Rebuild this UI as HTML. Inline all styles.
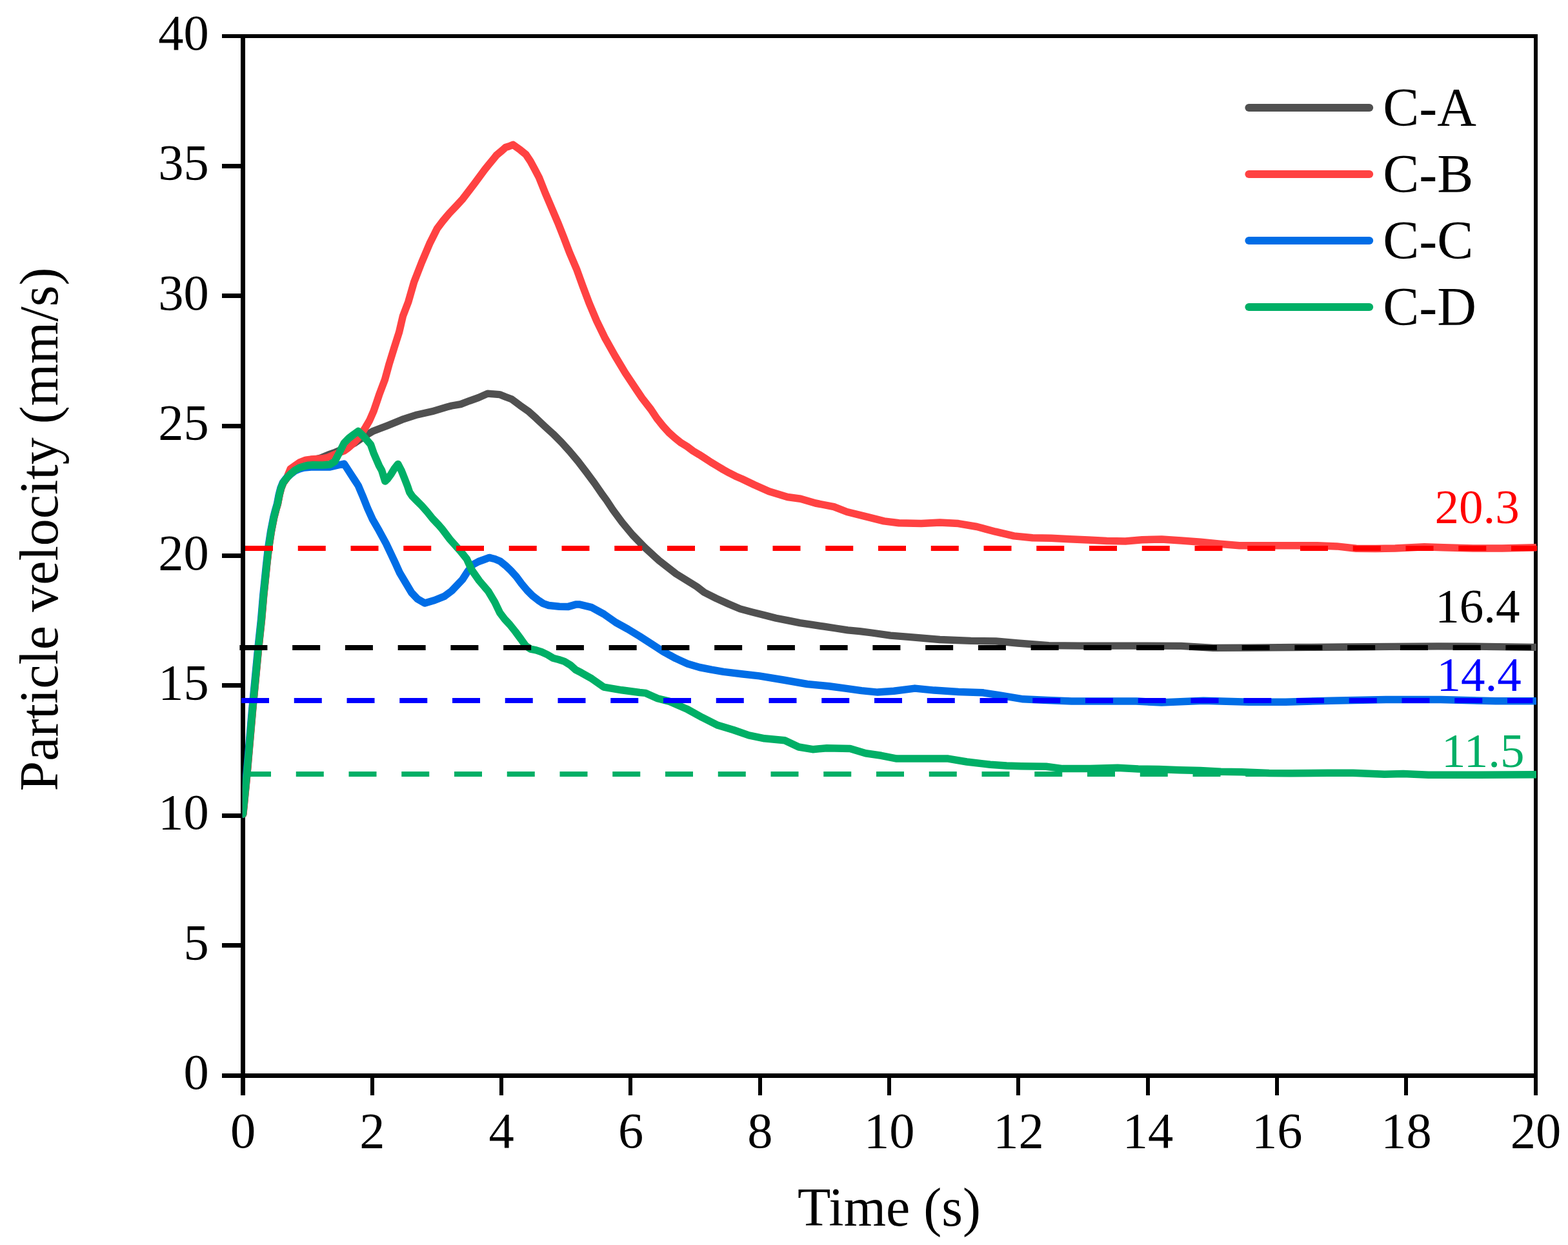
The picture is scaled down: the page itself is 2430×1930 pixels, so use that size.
<!DOCTYPE html><html><head><meta charset="utf-8"><title>Particle velocity</title>
<style>html,body{margin:0;padding:0;background:#fff;width:2430px;height:1930px;overflow:hidden}svg{display:block}text{font-family:"Liberation Serif","Times New Roman",serif;fill:#000}</style></head><body>
<svg width="2430" height="1930" viewBox="0 0 2430 1930">
<rect x="0" y="0" width="2430" height="1930" fill="#fff"/>
<g fill="#000">
<rect x="373" y="53" width="7" height="1618"/>
<rect x="2377" y="53" width="6" height="1618"/>
<rect x="344" y="53" width="2039" height="6"/>
<rect x="344" y="1664" width="2039" height="7"/>
<rect x="344" y="1462" width="30" height="7"/>
<rect x="344" y="1261" width="30" height="7"/>
<rect x="344" y="1059" width="30" height="7"/>
<rect x="344" y="858" width="30" height="7"/>
<rect x="344" y="657" width="30" height="7"/>
<rect x="344" y="455" width="30" height="7"/>
<rect x="344" y="254" width="30" height="7"/>
<rect x="373" y="1668" width="7" height="30"/>
<rect x="574" y="1668" width="6" height="30"/>
<rect x="774" y="1668" width="6" height="30"/>
<rect x="974" y="1668" width="6" height="30"/>
<rect x="1175" y="1668" width="6" height="30"/>
<rect x="1375" y="1668" width="6" height="30"/>
<rect x="1575" y="1668" width="6" height="30"/>
<rect x="1776" y="1668" width="6" height="30"/>
<rect x="1976" y="1668" width="6" height="30"/>
<rect x="2176" y="1668" width="6" height="30"/>
<rect x="2377" y="1668" width="6" height="30"/>
</g>
<defs><clipPath id="pa"><rect x="375.8" y="40" width="2005.2" height="1640"/></clipPath></defs>
<g clip-path="url(#pa)">
<path d="M376.8,1262.0 L382.9,1200.0 L391.6,1100.0 L400.8,1004.0 L405.5,960.0 L408.7,922.6 L411.1,899.3 L413.5,875.9 L416.4,850.2 L420.5,823.4 L424.7,802.0 L427.8,790.0 L430.4,781.1 L433.1,767.1 L435.8,756.6 L439.2,748.2 L443.9,741.9 L450.0,733.5 L457.0,728.0 L465.0,721.5 L473.0,717.0 L485.0,713.0 L497.0,710.0 L511.4,704.0 L520.0,701.0 L531.7,696.0 L549.2,687.0 L566.7,675.0 L578.4,668.2 L590.1,663.8 L600.0,659.9 L623.2,650.4 L646.4,642.9 L669.6,637.8 L692.8,630.9 L700.0,629.0 L713.9,626.6 L727.8,621.3 L741.7,616.4 L755.7,610.2 L764.9,610.9 L774.2,611.6 L783.5,615.3 L792.9,618.8 L805.7,628.3 L818.6,637.3 L831.4,648.8 L844.3,661.0 L857.1,672.6 L870.0,685.5 L882.8,699.6 L895.7,715.0 L908.5,731.7 L921.4,749.1 L934.2,767.7 L940.0,775.5 L949.9,790.5 L964.3,810.0 L980.1,829.0 L999.0,848.5 L1021.4,869.0 L1047.7,889.5 L1080.0,909.5 L1091.3,918.3 L1109.9,927.6 L1128.4,936.0 L1147.0,943.9 L1165.5,948.9 L1184.1,953.6 L1202.6,958.2 L1221.2,961.9 L1239.7,965.6 L1258.3,968.4 L1276.8,971.2 L1295.4,974.0 L1313.9,976.8 L1332.5,978.6 L1351.1,981.0 L1380.0,985.1 L1408.2,987.4 L1456.5,991.5 L1504.7,993.4 L1543.3,993.9 L1577.1,997.0 L1625.3,1000.7 L1673.6,1001.1 L1770.0,1001.1 L1830.3,1001.4 L1880.0,1004.3 L1933.7,1004.2 L2007.5,1003.5 L2081.2,1003.0 L2155.0,1002.3 L2228.7,1001.8 L2302.5,1002.3 L2380.0,1003.3" fill="none" stroke="#505050" stroke-width="11.3" stroke-linejoin="round" stroke-linecap="round"/>
<path d="M376.9,1262.0 L383.0,1200.0 L391.7,1100.0 L400.9,1004.0 L405.6,960.0 L408.8,922.6 L411.2,899.3 L413.6,875.9 L416.5,850.2 L420.6,823.4 L424.8,802.0 L427.9,790.0 L430.5,781.1 L433.2,767.1 L435.9,756.6 L439.3,748.2 L444.0,741.9 L450.1,727.0 L457.1,722.0 L465.0,716.5 L473.9,713.1 L481.6,712.1 L499.1,711.0 L508.5,709.0 L518.7,704.5 L533.0,699.0 L540.0,694.0 L549.0,686.0 L558.0,676.0 L566.7,662.0 L572.6,652.0 L579.1,637.1 L583.3,624.8 L587.4,612.6 L592.0,600.3 L596.6,588.1 L603.3,563.6 L610.9,539.0 L618.7,514.5 L624.4,490.0 L632.9,467.7 L641.6,437.3 L653.4,407.0 L666.3,376.6 L677.7,353.9 L686.0,343.0 L695.9,331.1 L706.0,320.5 L717.2,308.3 L734.6,285.5 L751.3,262.8 L769.5,240.5 L778.5,233.0 L783.4,228.6 L788.4,227.0 L795.1,224.3 L806.7,232.7 L815.0,239.5 L822.0,250.0 L828.5,262.0 L835.4,275.1 L844.7,298.5 L854.7,321.9 L864.6,345.2 L873.9,368.6 L882.6,391.5 L893.5,416.9 L903.2,443.7 L913.3,470.6 L924.7,497.5 L937.8,524.4 L952.9,551.2 L969.0,578.1 L986.9,605.0 L995.0,617.0 L1008.7,634.6 L1018.0,648.6 L1027.4,660.3 L1036.7,670.6 L1046.1,679.0 L1055.4,686.4 L1064.8,692.1 L1074.1,699.1 L1083.5,704.7 L1092.8,710.7 L1102.1,716.8 L1111.5,722.4 L1120.8,728.0 L1130.2,733.2 L1139.5,737.9 L1150.0,742.5 L1168.8,751.5 L1191.8,761.8 L1220.5,770.5 L1240.7,773.3 L1263.7,780.0 L1292.4,785.7 L1312.6,793.5 L1341.3,800.7 L1370.1,807.9 L1393.1,810.7 L1427.6,811.6 L1456.4,809.9 L1485.1,811.6 L1513.9,816.5 L1542.7,824.2 L1571.4,830.9 L1600.2,833.7 L1628.9,834.3 L1657.7,835.7 L1686.4,836.9 L1715.2,838.6 L1744.0,838.9 L1770.1,836.7 L1800.3,836.1 L1830.4,837.9 L1860.6,840.3 L1890.7,843.3 L1920.9,845.7 L1981.2,845.7 L2041.5,845.7 L2071.6,846.9 L2101.8,850.2 L2131.9,850.5 L2162.1,849.9 L2207.3,847.8 L2237.4,848.7 L2282.7,849.9 L2327.9,849.9 L2380.0,848.7" fill="none" stroke="#FF4242" stroke-width="11.5" stroke-linejoin="round" stroke-linecap="round"/>
<path d="M375.9,1262.0 L382.0,1200.0 L390.7,1100.0 L399.9,1004.0 L404.6,960.0 L407.8,922.6 L410.2,899.3 L412.6,875.9 L415.5,850.2 L419.6,823.4 L423.8,802.0 L426.9,790.0 L429.5,781.1 L432.2,767.1 L434.9,756.6 L438.3,748.2 L443.0,741.9 L450.0,735.5 L457.0,730.0 L464.0,727.0 L471.0,725.0 L482.0,724.0 L497.0,724.0 L511.4,724.0 L522.0,721.5 L533.3,719.0 L543.7,735.1 L549.5,744.0 L555.1,752.6 L562.5,770.1 L569.5,787.6 L577.4,805.2 L587.5,822.7 L598.4,842.8 L605.6,858.0 L612.8,873.2 L619.6,888.3 L628.7,903.5 L637.8,918.7 L647.0,928.5 L658.3,935.0 L673.5,930.5 L688.7,924.4 L700.0,916.0 L716.7,898.4 L725.0,885.5 L733.4,875.0 L741.7,870.5 L750.1,867.5 L758.4,864.4 L766.7,866.5 L775.1,870.0 L783.5,876.7 L791.8,884.6 L800.2,893.8 L808.5,905.1 L816.9,915.1 L825.2,923.5 L833.6,930.1 L841.9,935.6 L850.3,938.5 L866.9,940.3 L880.0,940.6 L892.2,937.1 L898.6,937.1 L917.1,941.7 L935.7,951.9 L954.2,964.9 L972.8,975.1 L991.3,986.3 L1009.9,998.3 L1028.4,1010.4 L1047.0,1020.6 L1065.5,1028.9 L1084.1,1034.5 L1102.6,1038.2 L1121.2,1041.4 L1149.0,1044.7 L1176.8,1047.9 L1213.9,1054.0 L1251.1,1060.5 L1285.0,1063.8 L1310.1,1067.1 L1335.1,1070.6 L1360.2,1073.1 L1385.2,1071.3 L1417.8,1067.1 L1447.8,1070.1 L1485.4,1072.6 L1523.0,1073.8 L1548.0,1077.6 L1585.6,1083.8 L1623.1,1085.6 L1660.7,1087.1 L1760.9,1087.1 L1800.0,1088.9 L1864.9,1086.2 L1935.6,1088.2 L1992.2,1088.2 L2063.0,1086.2 L2147.9,1084.5 L2232.7,1084.5 L2317.6,1086.8 L2380.0,1086.8" fill="none" stroke="#006DE6" stroke-width="11.5" stroke-linejoin="round" stroke-linecap="round"/>
<path d="M376.5,1262.0 L382.6,1200.0 L391.3,1100.0 L400.5,1004.0 L405.2,960.0 L408.4,922.6 L410.8,899.3 L413.2,875.9 L416.1,850.2 L420.2,823.4 L424.4,802.0 L427.5,790.0 L430.1,781.1 L432.8,767.1 L435.5,756.6 L438.9,748.2 L443.6,741.9 L450.1,734.8 L457.1,728.9 L464.1,725.0 L471.1,722.9 L478.1,721.2 L485.1,720.8 L500.0,721.0 L511.4,720.0 L518.7,715.5 L526.0,701.3 L533.3,686.7 L540.6,679.4 L548.0,673.6 L555.2,668.5 L564.0,677.0 L574.4,689.0 L578.9,701.9 L583.0,711.5 L587.3,721.4 L591.6,729.3 L596.8,746.0 L601.0,742.0 L606.3,734.6 L611.5,726.0 L616.8,719.4 L622.0,729.3 L626.2,739.9 L631.5,753.5 L634.7,763.0 L638.9,769.3 L645.2,775.6 L653.6,784.0 L662.0,793.5 L670.4,804.0 L679.9,814.0 L685.1,820.0 L697.4,836.2 L713.4,854.2 L723.4,866.7 L730.9,883.4 L742.6,900.1 L756.8,916.8 L766.8,933.5 L774.7,950.0 L782.3,960.0 L790.0,968.2 L798.8,979.3 L807.5,991.0 L814.5,1000.9 L822.1,1006.1 L830.9,1007.9 L839.6,1010.8 L848.4,1014.9 L857.2,1020.2 L865.9,1022.5 L874.7,1025.4 L883.5,1030.7 L892.2,1038.3 L901.0,1042.9 L917.1,1052.1 L935.7,1065.1 L963.5,1069.8 L991.3,1073.5 L1000.6,1074.4 L1019.1,1082.7 L1037.7,1087.4 L1064.1,1098.9 L1088.2,1112.2 L1112.4,1124.3 L1136.5,1131.5 L1160.6,1139.9 L1184.7,1144.8 L1216.1,1147.7 L1237.8,1158.0 L1259.5,1161.7 L1281.2,1159.7 L1317.4,1160.4 L1341.5,1167.7 L1365.6,1171.3 L1389.7,1176.1 L1425.9,1176.1 L1469.3,1176.1 L1498.3,1181.0 L1534.5,1185.3 L1560.0,1187.0 L1582.7,1187.7 L1621.1,1188.2 L1646.7,1191.6 L1689.4,1191.6 L1732.0,1190.3 L1764.0,1192.0 L1796.0,1192.4 L1828.0,1193.7 L1860.0,1194.6 L1892.0,1196.3 L1924.0,1196.7 L1966.7,1198.4 L2000.0,1198.8 L2057.9,1198.2 L2096.9,1198.2 L2145.6,1200.2 L2174.8,1199.6 L2213.8,1201.2 L2291.7,1201.2 L2380.0,1200.8" fill="none" stroke="#00AF66" stroke-width="11.5" stroke-linejoin="round" stroke-linecap="round"/>
</g>
<line x1="380" y1="850" x2="2382" y2="850" stroke="#FF0000" stroke-width="8" stroke-dasharray="43 38.75" stroke-dashoffset="0"/>
<line x1="371.4" y1="1004" x2="2373" y2="1004" stroke="#000000" stroke-width="8" stroke-dasharray="43 38.75" stroke-dashoffset="0"/>
<line x1="374" y1="1086" x2="2375.3" y2="1086" stroke="#0000FF" stroke-width="8" stroke-dasharray="43 38.75" stroke-dashoffset="0"/>
<line x1="377" y1="1200" x2="2381" y2="1200" stroke="#00AF66" stroke-width="8" stroke-dasharray="43 38.75" stroke-dashoffset="0"/>
<text x="323.8" y="1688.3" font-size="78.5" text-anchor="end">0</text>
<text x="323.8" y="1486.9" font-size="78.5" text-anchor="end">5</text>
<text x="323.8" y="1285.4" font-size="78.5" text-anchor="end">10</text>
<text x="323.8" y="1084.0" font-size="78.5" text-anchor="end">15</text>
<text x="323.8" y="882.5" font-size="78.5" text-anchor="end">20</text>
<text x="323.8" y="681.1" font-size="78.5" text-anchor="end">25</text>
<text x="323.8" y="479.7" font-size="78.5" text-anchor="end">30</text>
<text x="323.8" y="278.2" font-size="78.5" text-anchor="end">35</text>
<text x="323.8" y="76.8" font-size="78.5" text-anchor="end">40</text>
<text x="376.5" y="1779.4" font-size="78.5" text-anchor="middle">0</text>
<text x="576.9" y="1779.4" font-size="78.5" text-anchor="middle">2</text>
<text x="777.2" y="1779.4" font-size="78.5" text-anchor="middle">4</text>
<text x="977.5" y="1779.4" font-size="78.5" text-anchor="middle">6</text>
<text x="1177.9" y="1779.4" font-size="78.5" text-anchor="middle">8</text>
<text x="1378.2" y="1779.4" font-size="78.5" text-anchor="middle">10</text>
<text x="1578.6" y="1779.4" font-size="78.5" text-anchor="middle">12</text>
<text x="1779.0" y="1779.4" font-size="78.5" text-anchor="middle">14</text>
<text x="1979.3" y="1779.4" font-size="78.5" text-anchor="middle">16</text>
<text x="2179.6" y="1779.4" font-size="78.5" text-anchor="middle">18</text>
<text x="2380.0" y="1779.4" font-size="78.5" text-anchor="middle">20</text>
<text x="1236" y="1899.7" font-size="84">Time (s)</text>
<text transform="translate(88.8,1226.4) rotate(-90)" font-size="84">Particle velocity (mm/s)</text>
<line x1="1935.4" y1="166.9" x2="2122.2" y2="166.9" stroke="#505050" stroke-width="12" stroke-linecap="round"/>
<text x="2143.2" y="194.8" font-size="84">C-A</text>
<line x1="1935.4" y1="269.9" x2="2122.2" y2="269.9" stroke="#FF4242" stroke-width="12" stroke-linecap="round"/>
<text x="2143.2" y="297.8" font-size="84">C-B</text>
<line x1="1935.4" y1="372.9" x2="2122.2" y2="372.9" stroke="#006DE6" stroke-width="12" stroke-linecap="round"/>
<text x="2143.2" y="400.8" font-size="84">C-C</text>
<line x1="1935.4" y1="475.9" x2="2122.2" y2="475.9" stroke="#00AF66" stroke-width="12" stroke-linecap="round"/>
<text x="2143.2" y="503.8" font-size="84">C-D</text>
<text x="2223.5" y="811.2" font-size="75" style="fill:#FF0000">20.3</text>
<text x="2224.2" y="965" font-size="75" style="fill:#000">16.4</text>
<text x="2226.4" y="1070.9" font-size="75" style="fill:#0000FF">14.4</text>
<text x="2234" y="1189" font-size="75" style="fill:#00AF66">11.5</text>
</svg></body></html>
